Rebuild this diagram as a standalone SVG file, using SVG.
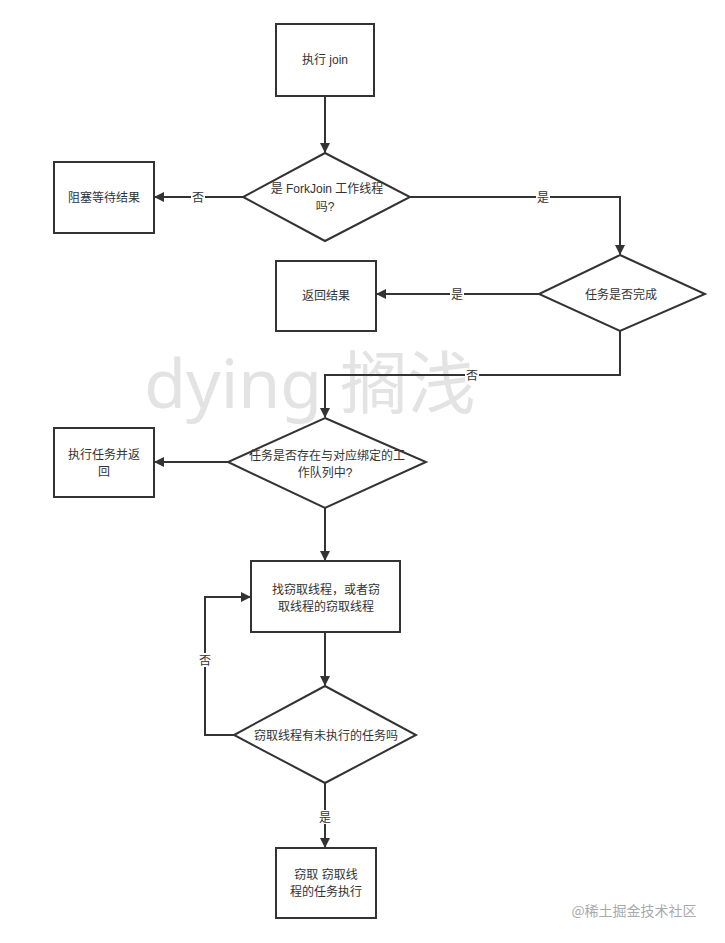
<svg xmlns="http://www.w3.org/2000/svg" width="725" height="943" viewBox="0 0 725 943">
<style>
.n{fill:#fff;stroke:#333;stroke-width:2}
.t{font-family:"Liberation Sans","Noto Sans CJK SC",sans-serif;font-size:12px;fill:#333;text-anchor:middle}
.c{fill:none;stroke:#333;stroke-width:2}
.l{font-family:"Liberation Sans","Noto Sans CJK SC",sans-serif;font-size:12px;fill:#333;text-anchor:middle}
.lb{fill:#fff}
</style>
<defs><marker id="a" markerWidth="10" markerHeight="10" refX="9" refY="5" orient="auto" markerUnits="userSpaceOnUse" viewBox="0 0 10 10"><path d="M0,0 L10,5 L0,10 Z" fill="#333"/></marker></defs>
<rect width="725" height="943" fill="#fff"/>
<text x="310" y="408" font-family="'Noto Sans','Noto Sans CJK SC',sans-serif" font-size="68" fill="#e3e3e3" text-anchor="middle">dying 搁浅</text>
<g id="connectors">
<path class="c" d="M325,96 V152" marker-end="url(#a)"/>
<path class="c" d="M243,197 H155" marker-end="url(#a)"/>
<path class="c" d="M410,197 H620 V254" marker-end="url(#a)"/>
<path class="c" d="M539,294 H377" marker-end="url(#a)"/>
<path class="c" d="M620,331 V375 H325 V417" marker-end="url(#a)"/>
<path class="c" d="M228,462 H155" marker-end="url(#a)"/>
<path class="c" d="M325,508 V560" marker-end="url(#a)"/>
<path class="c" d="M325,632 V685" marker-end="url(#a)"/>
<path class="c" d="M234,735 H205 V597 H250" marker-end="url(#a)"/>
<path class="c" d="M325,783 V847" marker-end="url(#a)"/>
<rect class="lb" x="191" y="190" width="14" height="14"/><text class="l" x="198" y="202">否</text>
<rect class="lb" x="536" y="190" width="14" height="14"/><text class="l" x="543" y="202">是</text>
<rect class="lb" x="450" y="287" width="14" height="14"/><text class="l" x="457" y="299">是</text>
<rect class="lb" x="465" y="368" width="14" height="14"/><text class="l" x="472" y="380">否</text>
<rect class="lb" x="198" y="653" width="14" height="14"/><text class="l" x="205" y="665">否</text>
<rect class="lb" x="318" y="810" width="14" height="14"/><text class="l" x="325" y="822">是</text>
</g>
<g id="n1"><rect class="n" x="276" y="24" width="98" height="72"/><text class="t" x="325" y="64">执行 join</text></g>
<g id="n2"><polygon class="n" points="325,153 410,197 325,241 243,197"/><text class="t" x="327" y="193">是 ForkJoin 工作线程</text><text class="t" x="325" y="211">吗?</text></g>
<g id="n3"><rect class="n" x="54" y="162" width="100" height="71"/><text class="t" x="104" y="202">阻塞等待结果</text></g>
<g id="n4"><polygon class="n" points="620,255 705,294 620,331 539,294"/><text class="t" x="621" y="299">任务是否完成</text></g>
<g id="n5"><rect class="n" x="276" y="261" width="100" height="70"/><text class="t" x="326" y="300">返回结果</text></g>
<g id="n6"><polygon class="n" points="325,418 426,462 325,508 228,462"/><text class="t" x="327" y="460">任务是否存在与对应绑定的工</text><text class="t" x="325" y="477">作队列中?</text></g>
<g id="n7"><rect class="n" x="54" y="428" width="100" height="69"/><text class="t" x="104" y="459">执行任务并返</text><text class="t" x="104" y="476">回</text></g>
<g id="n8"><rect class="n" x="251" y="561" width="149" height="71"/><text class="t" x="326" y="594">找窃取线程，或者窃</text><text class="t" x="326" y="611">取线程的窃取线程</text></g>
<g id="n9"><polygon class="n" points="325,686 416,735 325,783 234,735"/><text class="t" x="326" y="740">窃取线程有未执行的任务吗</text></g>
<g id="n10"><rect class="n" x="276" y="848" width="100" height="70"/><text class="t" x="326" y="879">窃取 窃取线</text><text class="t" x="326" y="896">程的任务执行</text></g>
<text x="634" y="916" font-family="'Noto Sans CJK SC',sans-serif" font-size="14" fill="#aaa" text-anchor="middle">@稀土掘金技术社区</text>
</svg>
